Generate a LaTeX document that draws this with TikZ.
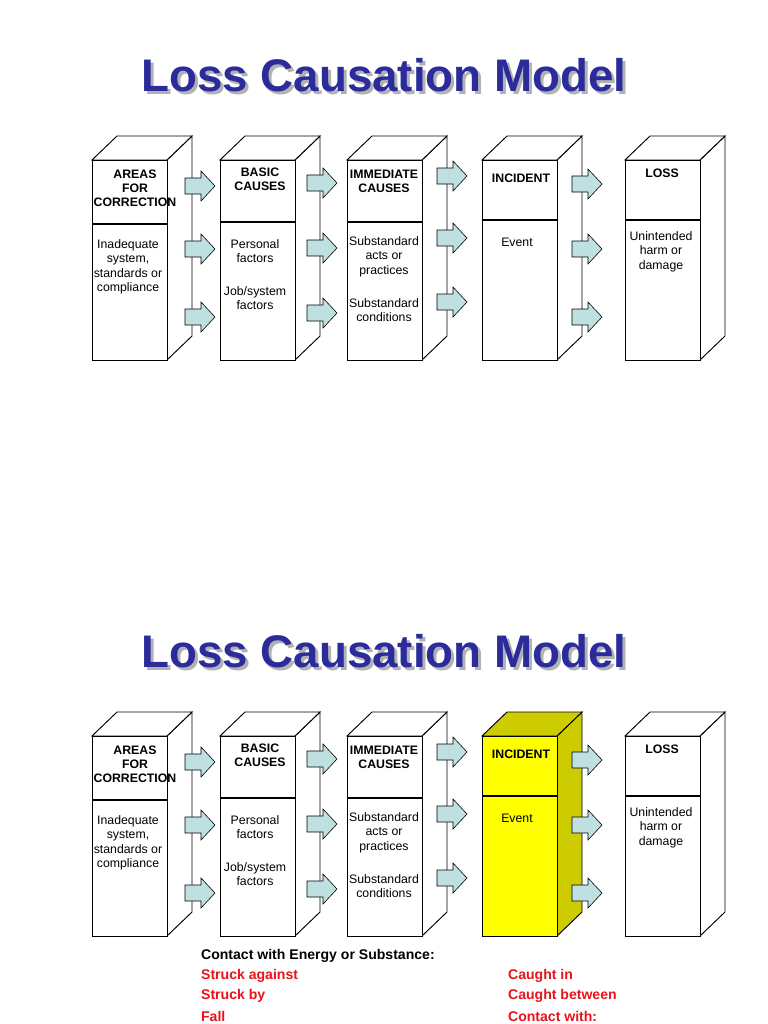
\documentclass[tikz,border=0pt]{standalone}
\usepackage{fontspec}
\setmainfont{Liberation Sans}
\definecolor{titleblue}{HTML}{2B2B9C}
\definecolor{arrowfill}{HTML}{BFE0E0}
\definecolor{incyellow}{HTML}{FFFF00}
\definecolor{incside}{HTML}{CCCC00}
\definecolor{redtext}{HTML}{E8141B}

\tikzset{
  boxline/.style={draw=black, line width=0.8pt},
  head/.style={font=\bfseries\fontsize{10.5}{12}\selectfont, align=center, anchor=north},
  body/.style={font=\fontsize{10.5}{12.5}\selectfont, align=center, anchor=north},
  flow/.style={draw=black, fill=arrowfill, line width=0.5pt},
  title/.style={font=\bfseries\fontsize{39}{42}\selectfont, text=titleblue},
  shadowtxt/.style={font=\bfseries\fontsize{39}{42}\selectfont, text=gray!60},
  contact/.style={font=\bfseries\fontsize{12}{14}\selectfont, anchor=west, text=redtext}
}

% one box: name, left x, top y, front fill, side fill, divider y
\newcommand{\drawcube}[6]{%
  \coordinate (#1-tl) at (#2,#3);
  \filldraw[boxline, fill=#5] (#2+75,#3) -- (#2+100,#3-24) -- (#2+100,#3+176) -- (#2+75,#3+200) -- cycle;
  \filldraw[boxline, fill=#5] (#2,#3) -- (#2+25,#3-24) -- (#2+100,#3-24) -- (#2+75,#3) -- cycle;
  \filldraw[boxline, fill=#4] (#2,#3) rectangle (#2+75,#3+200);
  \draw[line width=1.2pt] (#2,#6) -- (#2+75,#6);
}

\begin{document}
\begin{tikzpicture}[x=0.03cm, y=-0.03cm]
  \useasboundingbox[fill=white] (0,0) rectangle (768,1024);

  % Two panels, the second one highlights the incident
  \foreach \dy/\incf/\incs in {0/white/white, 576/incyellow/incside} {
    % Title
    \node[shadowtxt] at (387,78+\dy) {Loss Causation Model};
    \node[title] (title\dy) at (384,75+\dy) {Loss Causation Model};

    % Boxes
    \drawcube{areas\dy}{92}{160+\dy}{white}{white}{224+\dy}
    \drawcube{basic\dy}{220}{160+\dy}{white}{white}{222+\dy}
    \drawcube{immed\dy}{347}{160+\dy}{white}{white}{222+\dy}
    \drawcube{incid\dy}{482}{160+\dy}{\incf}{\incs}{220+\dy}
    \drawcube{loss\dy}{625}{160+\dy}{white}{white}{220+\dy}

    % Labels
    \node[head] (areash\dy) at (135,166+\dy) {AREAS\\FOR\\CORRECTION};
    \node[body] (areasb\dy) at (128,235+\dy) {Inadequate\\system,\\standards or\\compliance};
    \node[head] (basich\dy) at (260,164+\dy) {BASIC\\CAUSES};
    \node[body] (basicb1\dy) at (255,235+\dy) {Personal\\factors};
    \node[body] (basicb2\dy) at (255,282+\dy) {Job/system\\factors};
    \node[head] (immedh\dy) at (384,166+\dy) {IMMEDIATE\\CAUSES};
    \node[body] (immedb1\dy) at (384,232+\dy) {Substandard\\acts or\\practices};
    \node[body] (immedb2\dy) at (384,294+\dy) {Substandard\\conditions};
    \node[head] (incidh\dy) at (521,170+\dy) {INCIDENT};
    \node[body] (incidb\dy) at (517,234+\dy) {Event};
    \node[head] (lossh\dy) at (662,165+\dy) {LOSS};
    \node[body] (lossb\dy) at (661,227+\dy) {Unintended\\harm or\\damage};

    % Flow arrows
    \foreach \ax/\ay in {185/186, 185/249, 185/317, 307/183, 307/248, 307/313,
                         437/176, 437/238, 437/302, 572/184, 572/249, 572/317}
      \filldraw[flow] (\ax,\ay+\dy-8) -- (\ax+16,\ay+\dy-8) -- (\ax+16,\ay+\dy-15)
        -- (\ax+30,\ay+\dy) -- (\ax+16,\ay+\dy+15) -- (\ax+16,\ay+\dy+8)
        -- (\ax,\ay+\dy+8) -- cycle;
  }

  % Incident types
  \node[font=\bfseries\fontsize{12}{14}\selectfont, anchor=west] (contact) at (197,956) {Contact with Energy or Substance:};
  \node[contact] (struckag) at (197,976) {Struck against};
  \node[contact] (struckby) at (197,996) {Struck by};
  \node[contact] (fall) at (197,1016) {Fall};
  \node[contact] (caughtin) at (504,976) {Caught in};
  \node[contact] (caughtbw) at (504,996) {Caught between};
  \node[contact] (contactw) at (504,1016) {Contact with:};
\end{tikzpicture}
\end{document}
